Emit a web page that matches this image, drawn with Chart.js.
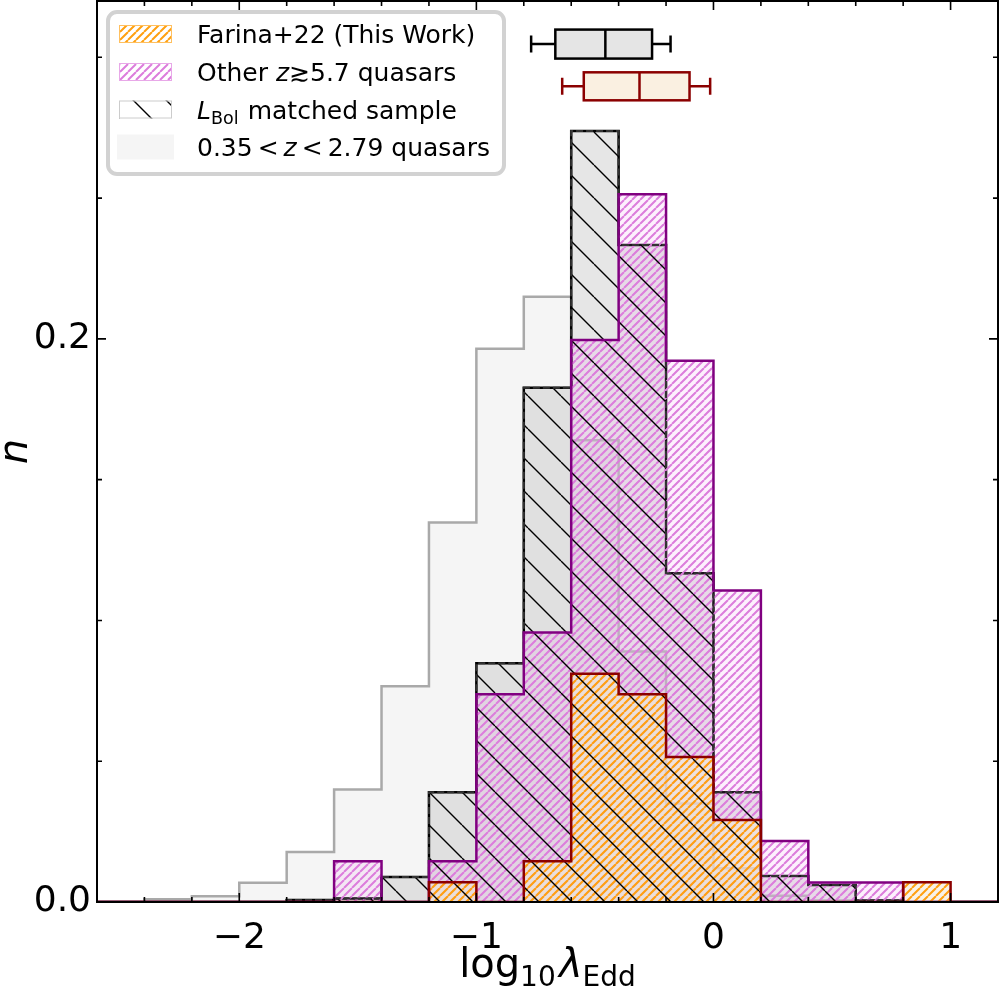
<!DOCTYPE html>
<html>
<head>
<meta charset="utf-8">
<title>Eddington ratio distributions</title>
<script src="https://cdn.jsdelivr.net/npm/chart.js@4.4.0/dist/chart.umd.min.js"></script>
<style>
  html, body { margin: 0; padding: 0; background: #fff; }
  #wrap { width: 1000px; height: 989px; }
</style>
</head>
<body>
<div id="wrap"><canvas id="histChart"></canvas></div>
<script>
// --- Data (normalised histograms, bin width 0.2) ---
const binEdges = [-2.6, -2.4, -2.2, -2.0, -1.8, -1.6, -1.4, -1.2, -1.0, -0.8, -0.6,
                  -0.4, -0.2, 0.0, 0.2, 0.4, 0.6, 0.8, 1.0, 1.2];
const lowzValues    = [0, 0.001, 0.002, 0.0068, 0.0178, 0.040, 0.0766, 0.1348, 0.1965, 0.215,
                       0.164, 0.089, 0.035, 0.012, 0.0022, 0.0005, 0, 0, 0];
const matchedValues = [0, 0, 0, 0, 0.0007, 0.0012, 0.0089, 0.039, 0.0848, 0.1826,
                       0.2738, 0.2333, 0.1168, 0.039, 0.0092, 0.006, 0.0005, 0, 0];
const otherValues   = [0, 0, 0, 0, 0, 0.0145, 0, 0.0145, 0.0738, 0.0957,
                       0.1996, 0.2514, 0.1922, 0.1106, 0.0217, 0.0069, 0.0069, 0, 0];
const farinaValues  = [0, 0, 0, 0, 0, 0, 0, 0.007, 0, 0.0145,
                       0.0811, 0.0738, 0.0515, 0.0291, 0, 0, 0, 0.007, 0];
// whisker low, Q1, median, Q3, whisker high
const matchedBox = [-0.769, -0.667, -0.456, -0.259, -0.181];
const farinaBox  = [-0.638, -0.547, -0.312, -0.101, -0.014];

const xTickValues = [-2, -1, 0, 1];
const xMinorTicks = [-2.4, -2.2, -1.8, -1.6, -1.4, -1.2, -0.8, -0.6, -0.4, -0.2,
                     0.2, 0.4, 0.6, 0.8, 1.2];
const yTickValues = [0, 0.2];
const yMinorTicks = [0.05, 0.1, 0.15, 0.25, 0.3];

// --- Styles ---
const FONT = '"DejaVu Sans", sans-serif';
const canvas = document.getElementById('histChart');
const mainCtx = canvas.getContext('2d');

function makeHatch(color, size, width, dir) {
    const c = document.createElement('canvas');
    c.width = size; c.height = size;
    const g = c.getContext('2d');
    g.strokeStyle = color;
    g.lineWidth = width;
    g.beginPath();
    for (let k = -1; k <= 1; k++) {
        if (dir === '/') { g.moveTo(k * size, size); g.lineTo(k * size + size, 0); }
        else { g.moveTo(k * size, 0); g.lineTo(k * size + size, size); }
    }
    g.stroke();
    return mainCtx.createPattern(c, 'repeat');
}

const orangeHatch = makeHatch('#ffa010', 8, 2.0, '/');
const violetHatch = makeHatch('#dc7ddc', 8, 2.0, '/');
const blackHatch  = makeHatch('#000000', 33, 1.4, '\\');

const boxStyles = [
    { stats: matchedBox, level: 0.3047, half: 14.5, cap: 8.5, color: '#000000', fill: '#e5e5e5' },
    { stats: farinaBox,  level: 0.2897, half: 14,   cap: 8.5, color: '#8b0000', fill: '#faf0e1' }
];

function stepData(values) {
    const pts = [{ x: binEdges[0], y: 0 }];
    values.forEach((v, i) => pts.push({ x: binEdges[i], y: v }));
    pts.push({ x: binEdges[binEdges.length - 1], y: 0 });
    return pts;
}

function fontStr(size, italic) {
    return (italic ? 'italic ' : '') + size + 'px ' + FONT;
}

// parts: [{ t, it, sub, gap }]  gap = extra space after the part, in em
function drawRich(ctx, parts, x, y, size, align) {
    let total = 0;
    parts.forEach(p => {
        p.size = p.sub ? size * 0.7 : size;
        ctx.font = fontStr(p.size, p.it);
        p.w = ctx.measureText(p.t).width + (p.gap || 0) * size;
        total += p.w;
    });
    let cx = align === 'center' ? x - total / 2 : x;
    parts.forEach(p => {
        ctx.font = fontStr(p.size, p.it);
        ctx.fillText(p.t, cx, y + (p.sub ? size * 0.22 : 0));
        cx += p.w;
    });
}

const legendRows = [
    { swatch: 'farina',  parts: [{ t: 'Farina+22 (This Work)' }] },
    { swatch: 'other',   parts: [{ t: 'Other ' }, { t: 'z', it: true }, { t: '\u22735.7 quasars' }] },
    { swatch: 'matched', parts: [{ t: 'L', it: true }, { t: 'Bol', sub: true, gap: 0.05 }, { t: ' matched sample' }] },
    { swatch: 'lowz',    parts: [{ t: '0.35', gap: 0.2 }, { t: '<', gap: 0.2 }, { t: 'z', it: true, gap: 0.2 },
                                 { t: '<', gap: 0.2 }, { t: '2.79 quasars' }] }
];

// --- Extra drawing: box plots, frame, inward ticks, legend, axis titles ---
const extrasPlugin = {
    id: 'extras',
    afterDatasetsDraw(chart) {
        const { ctx, scales: { x, y } } = chart;
        boxStyles.forEach(b => {
            const [lo, q1, med, q3, hi] = b.stats.map(v => x.getPixelForValue(v));
            const yc = y.getPixelForValue(b.level);
            ctx.save();
            ctx.lineWidth = 2.5;
            ctx.strokeStyle = b.color;
            ctx.beginPath();
            ctx.moveTo(lo, yc); ctx.lineTo(q1, yc);
            ctx.moveTo(q3, yc); ctx.lineTo(hi, yc);
            ctx.moveTo(lo, yc - b.cap); ctx.lineTo(lo, yc + b.cap);
            ctx.moveTo(hi, yc - b.cap); ctx.lineTo(hi, yc + b.cap);
            ctx.stroke();
            ctx.fillStyle = b.fill;
            ctx.fillRect(q1, yc - b.half, q3 - q1, 2 * b.half);
            ctx.strokeRect(q1, yc - b.half, q3 - q1, 2 * b.half);
            ctx.beginPath();
            ctx.moveTo(med, yc - b.half); ctx.lineTo(med, yc + b.half);
            ctx.stroke();
            ctx.restore();
        });
    },
    afterDraw(chart) {
        const { ctx, chartArea: a, scales: { x, y } } = chart;
        ctx.save();
        // ticks
        ctx.strokeStyle = '#000';
        ctx.lineWidth = 1.6;
        ctx.beginPath();
        const xt = (v, len) => {
            const px = x.getPixelForValue(v);
            ctx.moveTo(px, a.bottom); ctx.lineTo(px, a.bottom - len);
            ctx.moveTo(px, a.top); ctx.lineTo(px, a.top + len);
        };
        const yt = (v, len) => {
            const py = y.getPixelForValue(v);
            ctx.moveTo(a.left, py); ctx.lineTo(a.left + len, py);
            ctx.moveTo(a.right, py); ctx.lineTo(a.right - len, py);
        };
        xTickValues.forEach(v => xt(v, 9));
        xMinorTicks.forEach(v => xt(v, 5));
        yTickValues.forEach(v => yt(v, 9));
        yMinorTicks.forEach(v => yt(v, 5));
        ctx.stroke();
        // frame
        ctx.lineWidth = 2;
        ctx.strokeRect(a.left, a.top, a.right - a.left, a.bottom - a.top);

        // legend
        ctx.beginPath();
        ctx.roundRect(108, 12, 396, 162, 9);
        ctx.fillStyle = 'rgba(255,255,255,0.85)';
        ctx.fill();
        ctx.lineWidth = 4;
        ctx.strokeStyle = '#d2d2d2';
        ctx.stroke();

        const rowY = [34, 72, 109.5, 147];
        legendRows.forEach((row, i) => {
            const cy = rowY[i];
            ctx.lineWidth = 1;
            if (row.swatch === 'lowz') {
                ctx.fillStyle = '#f5f5f5';
                ctx.fillRect(117, cy - 12.5, 57, 25);
            } else {
                const pat = row.swatch === 'farina' ? orangeHatch : row.swatch === 'other' ? violetHatch : blackHatch;
                const edge = row.swatch === 'farina' ? '#ffc060' : row.swatch === 'other' ? '#e8a8e8' : '#cccccc';
                ctx.fillStyle = '#fff';
                ctx.fillRect(119, cy - 9, 53, 18);
                ctx.fillStyle = pat;
                ctx.fillRect(119, cy - 9, 53, 18);
                ctx.strokeStyle = edge;
                ctx.strokeRect(119.5, cy - 8.5, 52, 17);
            }
            ctx.fillStyle = '#000';
            ctx.textBaseline = 'alphabetic';
            ctx.textAlign = 'left';
            drawRich(ctx, row.parts, 197, cy + 9, 25, 'left');
        });

        // axis titles
        ctx.fillStyle = '#000';
        ctx.textAlign = 'left';
        drawRich(ctx, [{ t: 'log' }, { t: '10', sub: true, gap: 0.08 }, { t: '\u03bb', it: true },
                       { t: 'Edd', sub: true }], (a.left + a.right) / 2, 977, 40, 'center');
        ctx.save();
        ctx.translate(27, (a.top + a.bottom) / 2);
        ctx.rotate(-Math.PI / 2);
        ctx.textAlign = 'center';
        ctx.font = fontStr(40, true);
        ctx.fillText('n', 0, 0);
        ctx.restore();
        ctx.restore();
    }
};

// --- Chart ---
const lineBase = { type: 'line', stepped: 'before', pointRadius: 0, pointHoverRadius: 0,
                   borderJoinStyle: 'miter', borderCapStyle: 'butt' };
const noBorder = { borderWidth: 0, borderColor: 'rgba(0,0,0,0)' };

function noScalePadding(s) {
    s.paddingTop = 0; s.paddingBottom = 0; s.paddingLeft = 0; s.paddingRight = 0;
}

const histChart = new Chart(canvas, {
    type: 'line',
    data: {
        datasets: [
            { ...lineBase, data: stepData(lowzValues), fill: 'origin', backgroundColor: '#f5f5f5',
              borderColor: '#a9a9a9', borderWidth: 2.5, order: 10 },
            { ...lineBase, data: stepData(matchedValues), fill: 'origin', backgroundColor: 'rgba(200,200,200,0.45)',
              borderColor: '#000000', borderWidth: 2.5, order: 9 },
            { ...lineBase, ...noBorder, data: stepData(otherValues), fill: 'origin',
              backgroundColor: 'rgba(238,130,238,0.12)', order: 8 },
            { ...lineBase, ...noBorder, data: stepData(otherValues), fill: 'origin',
              backgroundColor: violetHatch, order: 7 },
            { ...lineBase, ...noBorder, data: stepData(farinaValues), fill: 'origin',
              backgroundColor: 'rgba(242,232,215,0.55)', order: 6 },
            { ...lineBase, ...noBorder, data: stepData(farinaValues), fill: 'origin',
              backgroundColor: orangeHatch, order: 5 },
            { ...lineBase, ...noBorder, data: stepData(matchedValues), fill: 'origin',
              backgroundColor: blackHatch, order: 4 },
            { ...lineBase, data: stepData(matchedValues), fill: false, borderColor: '#333333',
              borderWidth: 2, borderDash: [7, 3], order: 3 },
            { ...lineBase, data: stepData(otherValues), fill: false, borderColor: '#800080',
              borderWidth: 2.5, order: 2 },
            { ...lineBase, data: stepData(farinaValues), fill: false, borderColor: '#8b0000',
              borderWidth: 2.5, order: 1 }
        ]
    },
    options: {
        responsive: true,
        maintainAspectRatio: false,
        animation: false,
        events: [],
        layout: { padding: { top: 1, right: 2, left: 0, bottom: 0 } },
        plugins: { legend: { display: false }, tooltip: { enabled: false } },
        scales: {
            x: {
                type: 'linear', min: -2.6, max: 1.2,
                afterBuildTicks: s => { s.ticks = xTickValues.map(v => ({ value: v })); },
                afterFit: s => { s.height = 87; noScalePadding(s); },
                grid: { display: false, drawTicks: false },
                border: { display: false },
                ticks: {
                    color: '#000', padding: 15, maxRotation: 0, autoSkip: false,
                    font: { family: 'DejaVu Sans', size: 36 },
                    callback: v => (v < 0 ? '\u2212' + Math.abs(v) : String(v))
                }
            },
            y: {
                type: 'linear', min: 0, max: 0.32,
                afterBuildTicks: s => { s.ticks = yTickValues.map(v => ({ value: v })); },
                afterFit: s => { s.width = 97; noScalePadding(s); },
                grid: { display: false, drawTicks: false },
                border: { display: false },
                ticks: {
                    color: '#000', padding: 6,
                    font: { family: 'DejaVu Sans', size: 36 },
                    callback: v => v.toFixed(1)
                }
            }
        }
    },
    plugins: [extrasPlugin]
});
</script>
</body>
</html>
